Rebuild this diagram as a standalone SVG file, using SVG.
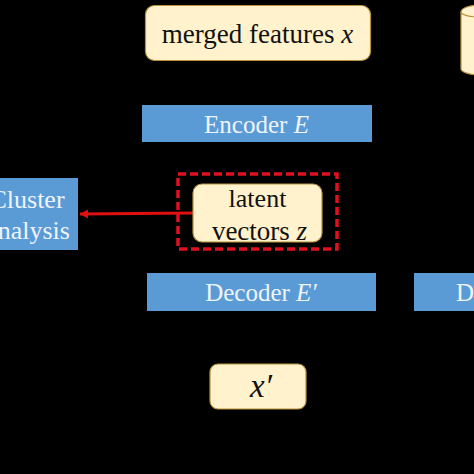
<svg xmlns="http://www.w3.org/2000/svg" width="474" height="474" viewBox="0 0 474 474">
<style>
.y{fill:#fff2cc;stroke:#b8923a;stroke-width:1.2}
.b{fill:#5b9bd5}
text{font-family:"Liberation Serif",serif;font-size:25px}
.k{fill:#111;text-anchor:middle}
.w{fill:#eef4fb;text-anchor:middle}
.i{font-style:italic}
</style>
<defs><marker id="a" markerUnits="userSpaceOnUse" markerWidth="10" markerHeight="10" refX="8" refY="4.500" orient="auto"><path d="M0 0L8 4.500L0 9z" fill="#e01010"/></marker></defs>
<rect width="474" height="474" fill="#000"/>
<g id="connectors"><path d="M193 213L80 214" stroke="#e01010" stroke-width="3" fill="none" marker-end="url(#a)"/></g>
<g id="merged"><rect class="y" x="145.500" y="5.500" width="225" height="55" rx="9"/><text class="k" x="257.500" y="43" style="font-size:27px">merged features <tspan class="i">x</tspan></text></g>
<g id="cylinder"><path class="y" d="M480 5C470 5 461 8 461 12V69C461 72 470 75 480 75z"/><path d="M461 12C461 15 470 17 480 17" fill="none" stroke="#b8923a" stroke-width="1.2"/></g>
<g id="encoder"><rect class="b" x="142" y="105" width="230" height="37"/><text class="w" x="256.500" y="133">Encoder <tspan class="i">E</tspan></text></g>
<g id="cluster"><rect class="b" x="-10" y="178" width="88" height="72"/><text class="w" x="27" y="208" style="font-size:26px">Cluster</text><text class="w" x="28" y="239" style="font-size:26px">analysis</text></g>
<g id="latent"><rect class="y" x="193" y="184" width="129" height="58" rx="9"/><text class="k" x="257.500" y="207" style="font-size:26px">latent</text><text class="k" x="259.500" y="240" style="font-size:27px">vectors <tspan class="i">z</tspan></text></g>
<rect x="178" y="174" width="159" height="75" fill="none" stroke="#e01020" stroke-width="3.500" stroke-dasharray="8 4"/>
<g id="decoder"><rect class="b" x="147" y="273" width="229" height="38"/><text class="w" x="261" y="301">Decoder <tspan class="i">E′</tspan></text></g>
<g id="decoder2"><rect class="b" x="414" y="273" width="70" height="38"/><text class="w" x="465" y="301">D</text></g>
<g id="xprime"><rect class="y" x="210" y="364" width="96" height="45" rx="8"/><text class="k i" x="261" y="397" style="font-size:33px">x′</text></g>
</svg>
